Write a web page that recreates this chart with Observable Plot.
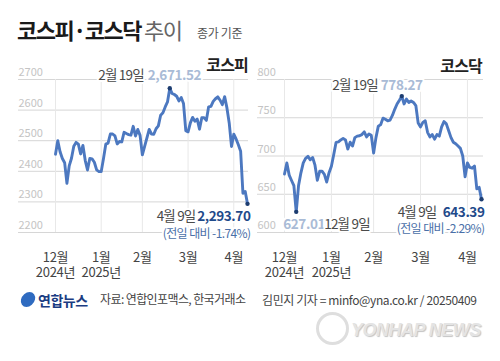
<!DOCTYPE html>
<html><head><meta charset="utf-8">
<script src="https://cdn.jsdelivr.net/npm/d3@7"></script>
<script src="https://cdn.jsdelivr.net/npm/@observablehq/plot@0.6"></script>
<style>
body{margin:0;background:#fff;}
#wrap{position:relative;width:500px;height:361px;overflow:hidden;background:#fff;font-family:'Noto Sans CJK KR',sans-serif;}
.abs{position:absolute;white-space:nowrap;line-height:1;}
.chart{position:absolute;top:50px;}
</style></head><body><div id="wrap">
<div class="abs" style="left:17px;top:18px;font-size:22px;letter-spacing:-1.5px;"><b style="color:#1a1a1a">코스피·코스닥</b><span style="color:#666;font-weight:400;margin-left:3px">추이</span></div>
<div class="abs" style="left:197px;top:27px;font-size:12px;color:#555;letter-spacing:-0.3px">종가 기준</div>
<div class="abs" style="right:252px;top:56px;font-size:16px;font-weight:700;color:#222;letter-spacing:-0.8px">코스피</div>
<div class="abs" style="right:18px;top:57px;font-size:16px;font-weight:700;color:#222;letter-spacing:-0.8px">코스닥</div>
<div id="c1" class="chart" style="left:0px"></div>
<div id="c2" class="chart" style="left:250px"></div>
<div class="abs" style="left:21px;top:292px;display:flex;align-items:center;">
  <span style="display:inline-block;width:14px;height:15px;border-radius:50%;background:#2f6bc0;transform:skewX(-12deg);margin-right:3px"></span>
  <b style="font-size:14px;color:#1b3c82;letter-spacing:-0.5px">연합뉴스</b>
</div>
<div class="abs" style="left:100px;top:293px;font-size:12px;color:#444;letter-spacing:-0.6px">자료: 연합인포맥스, 한국거래소</div>
<div class="abs" style="left:262px;top:294px;font-size:12px;color:#444;letter-spacing:-0.4px">김민지 기자 = minfo@yna.co.kr / 20250409</div>
<div class="abs" style="left:316px;top:312px;width:27px;height:27px;border:3px solid #dedede;border-radius:50%;"></div>
<div class="abs" style="left:351px;top:321px;font-family:'Liberation Sans',sans-serif;font-size:18px;font-weight:700;font-style:italic;color:#e4e4e4;text-shadow:1px 1px 1px #c4c4c4;letter-spacing:-0.5px">YONHAP NEWS</div>
</div>
<script>
const kospi = [
  2455.91, 2500.10, 2464.00, 2441.85, 2428.16, 2360.58, 2417.84, 2442.51, 2482.12, 2494.46,
  2488.97, 2456.81, 2484.43, 2435.93, 2404.15, 2442.01, 2440.52, 2429.67, 2404.77, 2399.49,
  2398.94, 2441.92, 2488.64, 2492.10, 2521.90, 2521.90, 2515.78, 2489.56, 2497.42, 2496.04,
  2527.49, 2523.55, 2520.05, 2518.03, 2547.06, 2515.23, 2536.80, 2517.37,
  2453.95, 2481.69, 2509.27, 2536.75, 2521.92, 2521.27, 2539.05, 2548.39, 2583.17, 2591.05,
  2610.42, 2626.81, 2671.52, 2654.58, 2651.00, 2645.27, 2630.00, 2641.09, 2621.75, 2532.78,
  2528.92, 2558.13, 2576.16, 2563.48, 2570.39, 2537.60, 2574.82, 2575.41, 2566.41, 2610.69,
  2612.34, 2628.62, 2637.10, 2643.13, 2632.33, 2617.83, 2643.94, 2607.15, 2557.98, 2481.12,
  2521.39, 2505.86, 2486.70, 2465.42, 2328.20, 2334.23, 2293.70
];
const kosdaq = [
  676.5, 690.8, 675.0, 668.0, 661.3, 627.01, 661.6, 678.0, 691.0, 697.0,
  699.5, 695.0, 698.0, 688.0, 668.3, 680.0, 680.1, 676.0, 666.0, 678.2,
  686.6, 702.0, 717.9, 718.5, 721.0, 723.0, 721.0, 709.0, 718.0, 713.0,
  724.0, 726.0, 726.5, 728.0, 731.5, 725.0, 728.7, 727.0,
  703.8, 724.0, 739.0, 741.0, 749.5, 748.0, 746.0, 747.0, 753.0, 761.0,
  768.0, 773.0, 778.27, 768.0, 774.5, 770.0, 772.0, 770.0, 766.0, 743.0,
  738.0, 744.0, 746.0, 731.0, 725.0, 728.0, 722.0, 728.0, 726.0, 738.0,
  745.0, 742.0, 733.0, 724.0, 718.0, 716.0, 713.0, 710.0, 700.0, 672.85,
  691.0, 685.0, 684.0, 687.0, 657.0, 659.0, 643.39
];
const monthTicks = [0, 20, 38, 58, 78];
const monthLabels = ["12월\n2024년", "1월\n2025년", "2월", "3월", "4월"];
const kospiTicks = [2200, 2300, 2400, 2500, 2600, 2700];
const kosdaqTicks = [600, 650, 700, 750, 800];
// annotations: [index, value, date text, value text, change text]
const kospiPeak = [50, 2671.52, "2월 19일", "2,671.52"];
const kospiLast = [84, 2293.70, "4월 9일", "2,293.70", "(전일 대비 -1.74%)"];
const kosdaqPeak = [50, 778.27, "2월 19일", "778.27"];
const kosdaqLow = [5, 627.01, "12월 9일", "627.01"];
const kosdaqLast = [84, 643.39, "4월 9일", "643.39", "(전일 대비 -2.29%)"];

const FONT = "'Noto Sans CJK KR', sans-serif";
const LINE = "#4c78c0", DOT = "#1d3d70", LIGHT = "#a9bbd6", NAVY = "#1f4a8a", PCT = "#4a6fa8", DATE = "#4a4a4a";

// ariaDescription carries the letter-spacing applied after render
function txt(a, o) {
  return Plot.text([a], Object.assign({x: d => d[0], y: d => d[1], stroke: "white", strokeWidth: 4, fontSize: 13.5, fill: DATE, ariaDescription: "-0.8"}, o));
}
function num(a, o) {
  return txt(a, Object.assign({fontWeight: 700, fontSize: 13.5, ariaDescription: "-0.4"}, o));
}
function pct(a, o) {
  return txt(a, Object.assign({fill: PCT, fontSize: 12, ariaDescription: "-0.6"}, o));
}

function chart(values, yDomain, yTicks, ml, mr, xRange, notes) {
  const data = values.map((v, i) => ({i, v}));
  const svg = Plot.plot({
    width: 250, height: 250,
    marginTop: 29, marginBottom: 68, marginLeft: ml, marginRight: mr,
    x: {domain: [0, 84], range: xRange},
    y: {domain: yDomain},
    style: {fontFamily: FONT, overflow: "visible", background: "transparent"},
    marks: [
      Plot.gridY(yTicks, {stroke: "#d6d6d6", strokeOpacity: 1}),
      Plot.gridX(monthTicks, {stroke: "#e8e8e8", strokeOpacity: 1}),
      Plot.axisY(yTicks, {anchor: "left", label: null, tickSize: 0, tickPadding: 0, textAnchor: "start", dy: -7, fill: "#c4c4c4", fontSize: 11, tickFormat: d => String(d)}),
      Plot.axisX(monthTicks, {anchor: "bottom", label: null, tickSize: 0, tickPadding: 18, fontSize: 13, fill: "#444", lineHeight: 1.2, ariaDescription: "-0.3", tickFormat: d => monthLabels[monthTicks.indexOf(d)]}),
      Plot.line(data, {x: "i", y: "v", stroke: LINE, strokeWidth: 2.9, strokeLinejoin: "round", strokeLinecap: "round"}),
      ...notes
    ]
  });
  svg.querySelectorAll("g[aria-description]").forEach(g => {
    const ls = parseFloat(g.getAttribute("aria-description"));
    if (!isNaN(ls)) g.style.letterSpacing = ls + "px";
  });
  return svg;
}

const notes1 = [
  txt(kospiPeak, {text: d => d[2], textAnchor: "end", dx: -26, dy: -13}),
  num(kospiPeak, {text: d => d[3], textAnchor: "start", dx: -22, dy: -13, fill: LIGHT}),
  txt(kospiLast, {text: d => d[2], textAnchor: "end", dx: -52, dy: 13}),
  num(kospiLast, {text: d => d[3], textAnchor: "end", dx: 3, dy: 13, fill: NAVY}),
  pct(kospiLast, {text: d => d[4], textAnchor: "end", dx: 3, dy: 30}),
  Plot.dot([kospiPeak, kospiLast], {x: d => d[0], y: d => d[1], r: 2.2, fill: DOT})
];
const notes2 = [
  txt(kosdaqPeak, {text: d => d[2], textAnchor: "end", dx: -24, dy: -10}),
  num(kosdaqPeak, {text: d => d[3], textAnchor: "start", dx: -21, dy: -10, fill: LIGHT}),
  num(kosdaqLow, {text: d => d[3], textAnchor: "start", dx: -13, dy: 13, fill: LIGHT}),
  txt(kosdaqLow, {text: d => d[2], textAnchor: "start", dx: 28, dy: 13}),
  txt(kosdaqLast, {text: d => d[2], textAnchor: "end", dx: -45, dy: 13}),
  num(kosdaqLast, {text: d => d[3], textAnchor: "end", dx: 3, dy: 13, fill: NAVY}),
  pct(kosdaqLast, {text: d => d[4], textAnchor: "end", dx: 3, dy: 30}),
  Plot.dot([kosdaqPeak, kosdaqLow, kosdaqLast], {x: d => d[0], y: d => d[1], r: 2.2, fill: DOT})
];

document.getElementById("c1").append(chart(kospi, [2200, 2700], kospiTicks, 18, 2, [55, 247], notes1));
document.getElementById("c2").append(chart(kosdaq, [600, 800], kosdaqTicks, 7, 17, [34, 231], notes2));
</script>
</body></html>
